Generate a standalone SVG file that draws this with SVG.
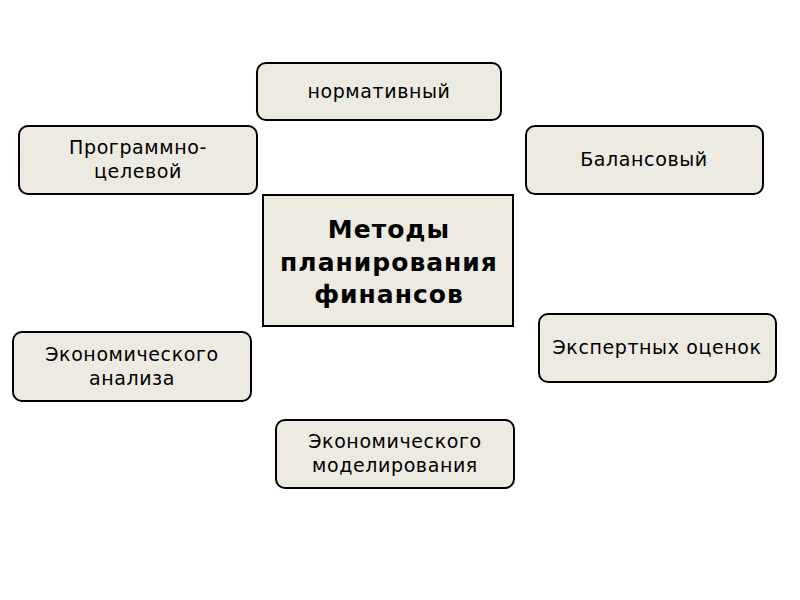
<svg xmlns="http://www.w3.org/2000/svg" width="800" height="600" viewBox="0 0 800 600">
<style>
.b{fill:#ECEAE1;stroke:#000;stroke-width:2}
.t{font-family:"DejaVu Sans",sans-serif;font-size:19px;letter-spacing:0.6px;text-anchor:middle;fill:#000}
.c{font-family:"DejaVu Sans",sans-serif;font-size:25px;letter-spacing:1px;font-weight:bold;text-anchor:middle;fill:#000}
</style>
<rect width="800" height="600" fill="#fff"/>
<g id="center"><rect class="b" x="263" y="195" width="250" height="131"/>
<text class="c" x="389" y="238">Методы</text><text class="c" x="389" y="271">планирования</text><text class="c" x="389" y="303">финансов</text></g>
<g id="normativ"><rect class="b" x="257" y="63" width="244" height="57" rx="9"/><text class="t" x="379" y="98">нормативный</text></g>
<g id="program"><rect class="b" x="19" y="126" width="238" height="68" rx="9"/><text class="t" x="138" y="154">Программно-</text><text class="t" x="138" y="178">целевой</text></g>
<g id="balans"><rect class="b" x="526" y="126" width="237" height="68" rx="9"/><text class="t" x="644" y="166">Балансовый</text></g>
<g id="econ-anal"><rect class="b" x="13" y="332" width="238" height="69" rx="9"/><text class="t" x="132" y="361">Экономического</text><text class="t" x="132" y="385">анализа</text></g>
<g id="expert"><rect class="b" x="539" y="314" width="237" height="68" rx="9"/><text class="t" x="657" y="354">Экспертных оценок</text></g>
<g id="econ-model"><rect class="b" x="276" y="420" width="238" height="68" rx="9"/><text class="t" x="395" y="448">Экономического</text><text class="t" x="395" y="472">моделирования</text></g>
<g id="connectors"></g>
</svg>
